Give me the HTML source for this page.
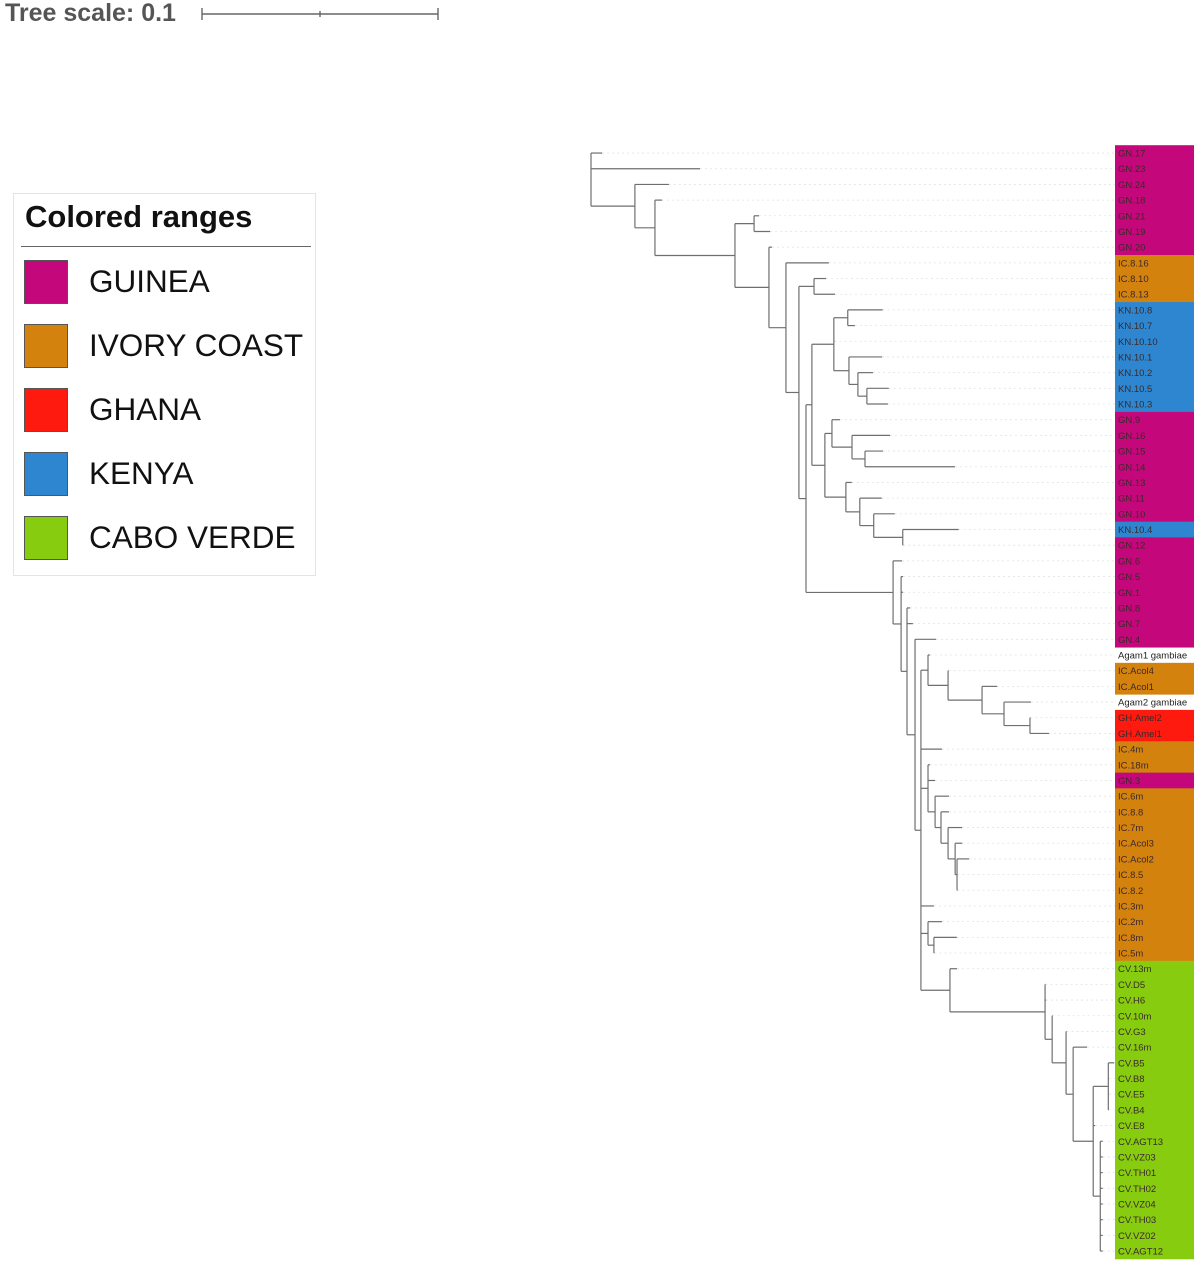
<!DOCTYPE html>
<html><head><meta charset="utf-8">
<style>
html,body{margin:0;padding:0;background:#fff;}
body{width:1200px;height:1265px;position:relative;overflow:hidden;font-family:"Liberation Sans",sans-serif;}
#scale-title{position:absolute;left:5px;top:-1px;font-size:25px;font-weight:bold;color:#555;}
#legend{position:absolute;left:13px;top:193px;width:303px;height:383px;border:1px solid #e4e4e4;box-sizing:border-box;}
#legend h2{margin:0;position:absolute;left:11px;top:5px;font-size:31px;font-weight:bold;color:#111;}
#legend .rule{position:absolute;left:7px;top:52px;width:290px;height:1px;background:#666;}
.entry{position:absolute;left:10px;height:44px;}
.sw{position:absolute;left:0;top:0;width:42px;height:42px;border:1px solid #555;}
.lab{position:absolute;left:65px;top:3px;font-size:31.5px;color:#111;white-space:nowrap;}
</style></head>
<body>
<div id="scale-title">Tree scale: 0.1</div>
<div id="legend">
 <h2>Colored ranges</h2>
 <div class="rule"></div>
 <div class="entry" style="top:66px"><div class="sw" style="background:#c4087c"></div><div class="lab">GUINEA</div></div>
 <div class="entry" style="top:130px"><div class="sw" style="background:#d4820e"></div><div class="lab">IVORY COAST</div></div>
 <div class="entry" style="top:194px"><div class="sw" style="background:#ff1a10"></div><div class="lab">GHANA</div></div>
 <div class="entry" style="top:258px"><div class="sw" style="background:#2f86d0"></div><div class="lab">KENYA</div></div>
 <div class="entry" style="top:322px"><div class="sw" style="background:#88cc10"></div><div class="lab">CABO VERDE</div></div>
</div>
<svg id="tree" width="1200" height="1265" style="position:absolute;left:0;top:0"></svg>
<script>
const newick = "(GN.17:4.7,GN.23:46.2,(GN.24:14.4,(GN.18:3.0,((GN.21:2.1,GN.19:6.8):8.1,(GN.20:1.3,(IC.8.16:18.2,((IC.8.10:5.1,IC.8.13:8.9):6.4,((((KN.10.8:14.8,KN.10.7:3.0):5.9,KN.10.10:0.3,(KN.10.1:14.0,(KN.10.2:6.4,(KN.10.5:9.3,KN.10.3:8.9):3.8):3.8):6.4):9.3,((GN.9:3.4,(GN.16:16.1,(GN.15:7.6,GN.14:38.1):5.5):8.5):3.0,(GN.13:2.5,(GN.11:9.3,(GN.10:8.9,(KN.10.4:23.7,GN.12:0.2):12.3):5.9):5.9):8.9):5.5):2.5,(GN.6:3.8,(GN.5:0.8,GN.1:0.8,(GN.8:1.3,GN.7:2.5,(GN.4:8.9,((Agam1 gambiae:0.8,(IC.Acol4:0.2,(IC.Acol1:6.4,(Agam2 gambiae:11.4,(GH.Amel2:0.2,GH.Amel1:8.1):11.0):9.3):14.4):8.5):3.0,IC.4m:8.9,(IC.18m:0.8,GN.3:3.0,(IC.6m:5.9,(IC.8.8:3.4,(IC.7m:5.9,(IC.Acol3:3.0,(IC.Acol2:5.1,IC.8.5:0.2,IC.8.2:0.2):0.8):3.0):3.0):2.5):3.0):3.0,IC.3m:5.5,(IC.2m:5.9,(IC.8m:9.7,IC.5m:0.2):2.5):3.0,(CV.13m:3.0,(CV.D5:0.2,CV.H6:0.4,(CV.10m:0.2,(CV.G3:0.2,(CV.16m:5.9,((CV.B5:2.5,CV.B8:0.2,CV.E5:0.2,CV.B4:0.2):6.4,CV.E8:0.8,(CV.AGT13:1,CV.VZ03:1,CV.TH01:1,CV.TH02:1,CV.VZ04:1,CV.TH03:1,CV.VZ02:1,CV.AGT12:1):3.0):8.5):3.0):5.9):3.0):40.3):12.3):2.5):3.4):2.5):3.4):36.9):3.0):5.5):7.2):14.4):33.9):8.5):18.6);";
const groupPrefixes = ["GN","IC","GH","KN","CV"];
const groupColors = ["#c4087c","#d4820e","#ff1a10","#2f86d0","#88cc10"];
const scaleTicks = [0, 0.05, 0.1];

const NS="http://www.w3.org/2000/svg";
const svg=document.getElementById('tree');
const rootX=591, pxPerUnit=2.36; // unit = 0.001
const rowTop=145.2, rowH=15.686, labelX=1115, labelW=79;
function xs(d){return rootX+d*pxPerUnit;}
function ys(i){return rowTop+rowH*(i+0.5);}
let pos=0;
function parse(){
  const node={children:[],name:"",len:0};
  if(newick[pos]==='('){
    pos++;
    while(true){node.children.push(parse()); if(newick[pos]===','){pos++;continue;} if(newick[pos]===')'){pos++;break;}}
  }
  let s=pos; while(pos<newick.length && !",():;".includes(newick[pos])) pos++;
  node.name=newick.slice(s,pos).trim();
  if(newick[pos]===':'){pos++; s=pos; while(!",();".includes(newick[pos])) pos++; node.len=parseFloat(newick.slice(s,pos));}
  return node;
}
const root=parse();
const leaves=[];
function layout(n,depth){
  n.d=depth+n.len;
  if(!n.children.length){n.i=leaves.length;n.y=ys(n.i);leaves.push(n);}
  else{n.children.forEach(c=>layout(c,n.d)); n.y=(n.children[0].y+n.children[n.children.length-1].y)/2;}
}
root.len=0; layout(root,0);
function line(x1,y1,x2,y2,stroke,w,dash,name){
  const l=document.createElementNS(NS,'line');
  l.setAttribute('x1',x1);l.setAttribute('y1',y1);l.setAttribute('x2',x2);l.setAttribute('y2',y2);
  l.setAttribute('stroke',stroke);l.setAttribute('stroke-width',w);
  if(dash)l.setAttribute('stroke-dasharray',dash);
  
  
  svg.appendChild(l);
}
leaves.forEach(lf=>{
  const gi=groupPrefixes.indexOf(lf.name.split('.')[0]);
  const top=rowTop+rowH*lf.i;
  if(gi>=0){
    const r=document.createElementNS(NS,'rect');
    r.setAttribute('x',labelX);r.setAttribute('y',top);r.setAttribute('width',labelW);r.setAttribute('height',rowH+0.4);
    r.setAttribute('fill',groupColors[gi]);
    
    
    svg.appendChild(r);
  }
  const t=document.createElementNS(NS,'text');
  t.setAttribute('x',labelX+3);t.setAttribute('y',top+rowH/2+3.5);
  t.setAttribute('font-size','9.5');t.setAttribute('font-family','Liberation Sans, sans-serif');
  t.setAttribute('fill',gi>=0?'#3a2a2a':'#222');
  t.textContent=lf.name;
  
  
  svg.appendChild(t);
  line(xs(lf.d),lf.y,labelX,lf.y,'#e2e2e2',0.8,'2,3','leader-line');
});
function draw(n,parentD){
  line(xs(parentD),n.y,xs(n.d),n.y,'#6f6f6f',1.2,null,'branch');
  if(n.children.length){
    line(xs(n.d),n.children[0].y,xs(n.d),n.children[n.children.length-1].y,'#6f6f6f',1.2,null,'branch-vertical');
    n.children.forEach(c=>draw(c,n.d));
  }
}
root.children.forEach(c=>draw(c,0));
line(xs(0),root.children[0].y,xs(0),root.children[root.children.length-1].y,'#6f6f6f',1.2,null,'root-vertical');
const sbX=202, sbPx=0.1*1000*pxPerUnit, sbY=14;
line(sbX,sbY,sbX+sbPx,sbY,'#666',1.6,null,'scale-bar');
scaleTicks.forEach((v,k)=>{
  const x=sbX+v*1000*pxPerUnit; const h=(k===1)?3:6;
  line(x,sbY-h,x,sbY+(k===1?3:6),'#666',1.4,null,'scale-tick');
});
</script>
</body></html>
